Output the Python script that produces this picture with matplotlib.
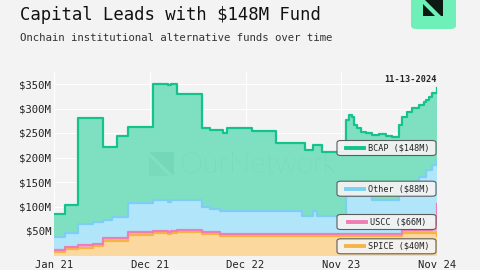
import matplotlib
matplotlib.use("Agg")
import matplotlib.pyplot as plt
import matplotlib.dates as mdates
from matplotlib.patches import FancyBboxPatch, Polygon
import numpy as np
import pandas as pd

# breakpoints of the step series (value holds until next date)
dates = [
    "2021-01-01", "2021-02-10", "2021-03-30", "2021-05-24", "2021-07-01",
    "2021-08-03", "2021-08-21", "2021-10-01", "2022-01-01", "2022-02-25",
    "2022-03-08", "2022-03-30", "2022-06-30", "2022-07-30", "2022-09-05",
    "2022-09-16", "2022-09-30", "2023-01-01", "2023-03-30", "2023-07-06",
    "2023-07-17", "2023-08-13", "2023-08-28", "2023-09-15", "2023-12-15",
    "2023-12-26", "2024-01-06", "2024-01-13", "2024-01-24", "2024-02-07",
    "2024-02-25", "2024-03-19", "2024-04-13", "2024-05-09", "2024-06-01",
    "2024-06-23", "2024-06-26", "2024-07-07", "2024-07-25", "2024-08-13",
    "2024-09-08", "2024-09-26", "2024-10-03", "2024-10-14", "2024-10-25",
    "2024-11-13",
]
spice = [7, 13, 16, 19, 30, 30, 30, 42, 46, 44,
         46, 47, 43, 43, 39, 39, 39, 39, 39, 39,
         39, 39, 39, 39, 39, 39, 39, 39, 39, 39,
         39, 39, 39, 39, 39, 39, 39, 45, 45, 45,
         45, 45, 45, 45, 45, 40]
uscc = [4, 4, 5, 5, 5, 5, 5, 5, 5, 4,
        5, 5, 4, 4, 4, 4, 4, 4, 4, 4,
        4, 4, 4, 4, 4, 4, 4, 4, 4, 4,
        4, 4, 4, 4, 4, 4, 4, 7, 7, 7,
        7, 7, 7, 7, 20, 66]
other = [27, 28, 43, 44, 37, 44, 44, 61, 62, 62,
         62, 61, 53, 48, 47, 47, 47, 47, 47, 38,
         38, 47, 38, 38, 78, 78, 78, 78, 78, 78,
         78, 71, 71, 71, 71, 71, 85, 75, 75, 96,
         108, 108, 122, 122, 120, 88]
bcap = [46, 58, 216, 213, 150, 143, 165, 154, 238, 238,
        238, 216, 160, 161, 166, 161, 170, 165, 140, 149,
        134, 135, 144, 131, 155, 166, 162, 145, 139, 132,
        128, 132, 134, 130, 128, 128, 138, 156, 166, 154,
        147, 154, 144, 150, 146, 148]

names = ["SPICE", "USCC", "Other", "BCAP"]
fill_colors = ["#fbd89e", "#f7aacb", "#b1e5f9", "#7fe0c1"]
line_colors = ["#f6b446", "#f07db4", "#7ccff3", "#14c38b"]
tick_labels = ["Jan 21", "Dec 21", "Dec 22", "Nov 23", "Nov 24"]

BG = "#f3f3f3"
MONO = "DejaVu Sans Mono"

x = pd.to_datetime(dates)
series = [np.array(spice), np.array(uscc), np.array(other), np.array(bcap)]
tops = np.cumsum(series, axis=0)

fig = plt.figure(figsize=(4.8, 2.7), dpi=100, facecolor=BG)
W, H = 480, 270
y0_px, y_scale = 255.5, 0.49
ymax = 375
ax = fig.add_axes([54 / W, 1 - y0_px / H, 383 / W, ymax * y_scale / H])
ax.set_facecolor(BG)

bottom = np.zeros(len(x))
for i in range(4):
    ax.fill_between(x, bottom, tops[i], step="post", color=fill_colors[i],
                    lw=0, zorder=2)
    bottom = tops[i]
for i in range(4):
    ax.plot(x, tops[i], drawstyle="steps-post", color=line_colors[i],
            lw=1.6, zorder=3 + i)

ax.set_ylim(0, ymax)
ax.set_xlim(x[0], x[-1])
xt = np.linspace(mdates.date2num(x[0]), mdates.date2num(x[-1]), 5)
ax.set_xticks(xt)
ax.set_xticklabels(tick_labels)
ax.set_yticks(range(50, 351, 50))
ax.set_yticklabels(["$%dM" % v for v in range(50, 351, 50)])
ax.tick_params(length=0, labelsize=7.6, labelcolor="#222", pad=2)
ax.tick_params(axis="x", pad=3)
for lab in ax.get_xticklabels() + ax.get_yticklabels():
    lab.set_family(MONO)
for s in ax.spines.values():
    s.set_visible(False)
ax.grid(True, color="white", lw=0.8, zorder=0)

# date stamp
ax.text(1.0, (255.5 - 80) / (ymax * y_scale), "11-13-2024", transform=ax.transAxes,
        ha="right", va="center", fontsize=6.2, family=MONO, fontweight="bold",
        color="#222", zorder=10)

# watermark
fig.text(180 / W, 1 - 165 / H, "OurNetwork", fontsize=21, family="Lato",
         fontweight="light", color="#2a9c78", alpha=0.18, va="center", zorder=5)
ax_wm = [(149, 152), (174, 152), (174, 176), (149, 176)]
fig.patches.append(Polygon([(px / W, 1 - py / H) for px, py in
                            [(149, 152), (174, 152), (174, 176)]],
                           closed=True, transform=fig.transFigure,
                           color="#2a9c78", alpha=0.12, lw=0, zorder=5))
fig.patches.append(Polygon([(px / W, 1 - py / H) for px, py in
                            [(149, 156), (149, 176), (169, 176)]],
                           closed=True, transform=fig.transFigure,
                           color="#2a9c78", alpha=0.08, lw=0, zorder=5))

# legend boxes
box_y = [246.3, 222, 188.7, 148]
values = ["$40M", "$66M", "$88M", "$148M"]
for i in range(4):
    cy = box_y[i]
    box = FancyBboxPatch((337 / W, 1 - (cy + 7.5) / H), 99 / W, 15 / H,
                         boxstyle="round,pad=0,rounding_size=0.008",
                         transform=fig.transFigure, facecolor=BG,
                         edgecolor="#555", lw=0.8, alpha=0.95, zorder=20)
    fig.patches.append(box)
    label = "%s (%s)" % (names[i], values[i])
    gw = 18 + 4 + len(label) * 5.0
    sx = 386.5 - gw / 2
    fig.lines.append(plt.Line2D([sx / W, (sx + 18) / W], [1 - cy / H, 1 - cy / H],
                                transform=fig.transFigure, color=line_colors[i],
                                lw=2.8, zorder=21))
    fig.text((sx + 22) / W, 1 - cy / H, label, fontsize=6.1, family=MONO,
             color="#222", va="center", ha="left", zorder=22)

# title
fig.text(20 / W, 1 - 15 / H, "Capital Leads with $148M Fund", fontsize=12.4,
         family=MONO, color="#111", va="center", ha="left")
fig.text(20 / W, 1 - 38 / H, "Onchain institutional alternative funds over time",
         fontsize=7.7, family=MONO, color="#333", va="center", ha="left")

# corner logo
fig.patches.append(FancyBboxPatch((411 / W, 1 - 29 / H), 45 / W, 40 / H,
                                  boxstyle="round,pad=0,rounding_size=0.012",
                                  transform=fig.transFigure, facecolor="#6ff0b8",
                                  edgecolor="none", zorder=30))
fig.patches.append(Polygon([(px / W, 1 - py / H) for px, py in
                            [(423, 4), (423, 16), (435, 16)]],
                           closed=True, transform=fig.transFigure,
                           color="#0d1a14", lw=0, zorder=31))
fig.patches.append(Polygon([(px / W, 1 - py / H) for px, py in
                            [(425, 0), (443, 0), (443, 16), (441, 16)]],
                           closed=True, transform=fig.transFigure,
                           color="#0d1a14", lw=0, zorder=31))

fig.savefig("out.png", dpi=100, facecolor=BG)
